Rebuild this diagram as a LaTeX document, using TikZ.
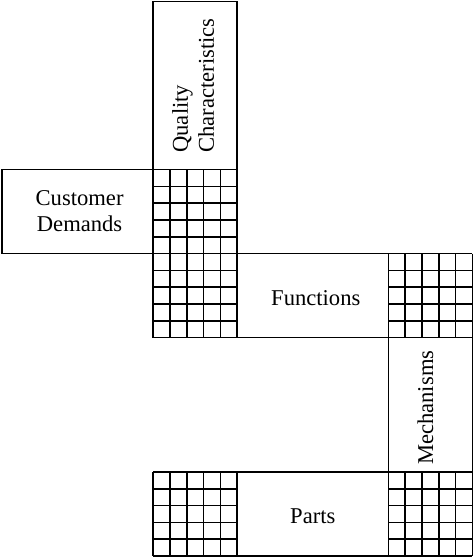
\documentclass[tikz,border=0pt]{standalone}
\usepackage{fontspec}
\setmainfont{Liberation Serif}
\newcommand\cellsz{16.8}
\newcommand\gridblock[3]{%
  \foreach \i in {0,...,5} \draw[gridline] ({#1+\i*\cellsz},#2) -- ++(0,{#3*\cellsz});
  \foreach \j in {0,...,#3} \draw[gridline] (#1,{#2+\j*\cellsz}) -- ++({5*\cellsz},0);
}
\begin{document}
\begin{tikzpicture}[x=1pt,y=-1pt,
  box/.style={draw, line width=1.6pt, inner sep=0pt, outer sep=0pt, anchor=north west},
  lbl/.style={font=\fontsize{22.6}{26}\selectfont, inner sep=0pt},
  gridline/.style={line width=1.6pt}]
\useasboundingbox (0,0) rectangle (474,557);
% boxes
\node[box, minimum width=84pt, minimum height=168pt] (qc) at (153.2,1.5) {};
\node[box, minimum width=151.2pt, minimum height=84pt] (cd) at (2,169.5) {};
\node[box, minimum width=151.2pt, minimum height=84pt] (fn) at (237.2,253.5) {};
\node[box, minimum width=84pt, minimum height=134.4pt] (mc) at (388.4,337.5) {};
\node[box, minimum width=151.2pt, minimum height=84pt] (pt) at (237.2,471.9) {};
% grids
\gridblock{153.2}{169.5}{10}
\gridblock{388.4}{253.5}{5}
\gridblock{153.2}{471.9}{5}
\gridblock{388.4}{471.9}{5}
% labels
\node[lbl, rotate=90, align=left] (qct) at ([xshift=-2pt]qc.center) {Quality\\Characteristics};
\node[lbl, align=center] (cdt) at ([xshift=2pt]cd.center) {Customer\\Demands};
\node[lbl] (fnt) at ([xshift=3pt,yshift=-3pt]fn.center) {Functions};
\node[lbl, rotate=90] (mct) at ([xshift=-5pt,yshift=-3pt]mc.center) {Mechanisms};
\node[lbl] (ptt) at ([yshift=-2pt]pt.center) {Parts};
\end{tikzpicture}
\end{document}
